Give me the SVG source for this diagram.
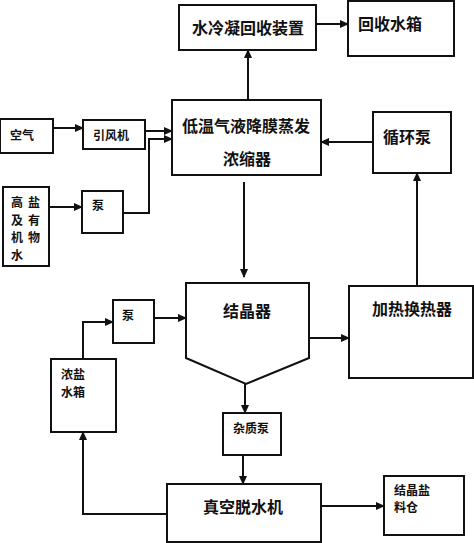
<svg xmlns="http://www.w3.org/2000/svg" width="474" height="543" viewBox="0 0 474 543">
<style>
.box{fill:#fff;stroke:#111;stroke-width:2}
.ln{fill:none;stroke:#111;stroke-width:2;marker-end:url(#ah)}
.ln0{fill:none;stroke:#111;stroke-width:2}
text{font-family:"Noto Sans CJK SC","Noto Sans",sans-serif;font-weight:bold;fill:#111}
.L{font-size:16px}
.S{font-size:12px}
</style>
<defs>
<marker id="ah" markerUnits="userSpaceOnUse" markerWidth="9" markerHeight="8" refX="8" refY="4" orient="auto">
<path d="M0,0 L9,4 L0,8 Z" fill="#111"/>
</marker>
</defs>
<rect width="474" height="543" fill="#fff"/>
<g id="condenser"><rect class="box" x="179" y="5" width="137" height="45"/><text class="L" x="248" y="34" text-anchor="middle">水冷凝回收装置</text></g>
<g id="recovery-tank"><rect class="box" x="348" y="1" width="106" height="55"/><text class="L" x="358" y="30">回收水箱</text></g>
<g id="evaporator"><rect class="box" x="172" y="100" width="149" height="75"/><text class="L" x="246" y="132" text-anchor="middle">低温气液降膜蒸发</text><text class="L" x="247" y="165" text-anchor="middle">浓缩器</text></g>
<g id="air"><rect class="box" x="0" y="119" width="53" height="34"/><text class="S" x="10" y="140">空气</text></g>
<g id="fan"><rect class="box" x="83" y="120" width="62" height="29"/><text class="S" x="93" y="140">引风机</text></g>
<g id="circ-pump"><rect class="box" x="373" y="112" width="78" height="61"/><text class="L" x="383" y="143">循环泵</text></g>
<g id="wastewater"><rect class="box" x="3" y="187" width="46" height="79"/>
<text class="S" x="11" y="207">高</text><text class="S" x="28" y="207">盐</text>
<text class="S" x="11" y="225">及</text><text class="S" x="28" y="225">有</text>
<text class="S" x="11" y="242">机</text><text class="S" x="28" y="242">物</text>
<text class="S" x="11" y="260">水</text></g>
<g id="pump1"><rect class="box" x="82" y="191" width="41" height="42"/><text class="S" x="92" y="210">泵</text></g>
<g id="crystallizer"><path class="box" d="M186,283 H309 V358 L246,384 L186,358 Z"/><text class="L" x="247" y="317" text-anchor="middle">结晶器</text></g>
<g id="heater"><rect class="box" x="349" y="286" width="124" height="92"/><text class="L" x="412" y="315" text-anchor="middle">加热换热器</text></g>
<g id="pump2"><rect class="box" x="113" y="300" width="41" height="43"/><text class="S" x="122" y="320">泵</text></g>
<g id="brine-tank"><rect class="box" x="51" y="359" width="65" height="73"/><text class="S" x="61" y="379">浓盐</text><text class="S" x="61" y="397">水箱</text></g>
<g id="impurity-pump"><rect class="box" x="223" y="413" width="58" height="42"/><text class="S" x="233" y="433">杂质泵</text></g>
<g id="vacuum"><rect class="box" x="167" y="484" width="154" height="58"/><text class="L" x="243" y="513" text-anchor="middle">真空脱水机</text></g>
<g id="salt-bin"><rect class="box" x="384" y="476" width="80" height="59"/><text class="S" x="394" y="495">结晶盐</text><text class="S" x="394" y="512">料仓</text></g>
<g id="connectors">
<path class="ln" d="M248,100 V50"/>
<path class="ln" d="M316,24 H348"/>
<path class="ln" d="M53,128 H83"/>
<path class="ln" d="M145,131 H172"/>
<path class="ln" d="M123,213 H149 V139 H172"/>
<path class="ln" d="M49,207 H82"/>
<path class="ln" d="M373,142 H321"/>
<path class="ln" d="M244,182 V277"/>
<path class="ln" d="M309,338 H349"/>
<path class="ln" d="M417,286 V173"/>
<path class="ln" d="M154,318 H186"/>
<path class="ln" d="M83,359 V322 H113"/>
<path class="ln" d="M245,384 V413"/>
<path class="ln" d="M243,455 V484"/>
<path class="ln" d="M167,514 H83 V432"/>
<path class="ln" d="M321,506 H384"/>
</g>
</svg>
